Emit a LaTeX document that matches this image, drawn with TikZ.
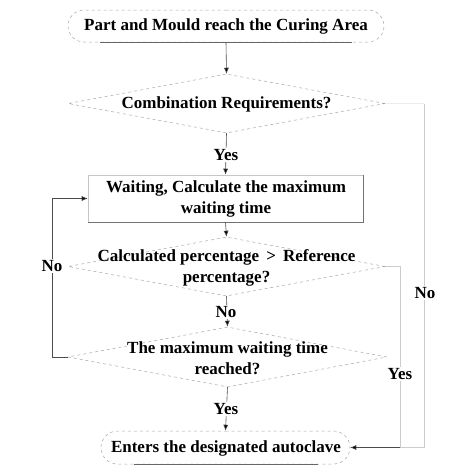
\documentclass[tikz,border=0pt]{standalone}
\usepackage{fontspec}
\setmainfont{Liberation Serif}
\usetikzlibrary{shapes.geometric,shapes.misc,arrows.meta}
\tikzset{
  txt/.style={font=\bfseries\fontsize{17}{21}\selectfont, align=center, inner sep=0pt},
  term/.style={rounded rectangle, draw=gray!70, dashed, line width=0.5pt, inner sep=0pt},
  dia/.style={diamond, draw=gray!70, dashed, line width=0.5pt, inner sep=0pt},
  procbox/.style={rectangle, draw=gray!45, line width=0.6pt, inner sep=0pt},
  conn/.style={draw=black!70, line width=0.6pt},
  arr/.style={conn, -{Latex[length=6pt,width=5pt,fill=black]}},
  faint/.style={draw=gray!40, line width=0.6pt},
  veryfaint/.style={draw=gray!15, line width=0.5pt},
  lbl/.style={font=\bfseries\fontsize{17}{21}\selectfont, fill=white, inner sep=1pt}
}
\begin{document}
\begin{tikzpicture}[x=1pt,y=-1pt]
\useasboundingbox (0,0) rectangle (474,474);
% shapes
\node[term, minimum width=316pt, minimum height=32pt] (start) at (226,26) {};
\draw[black!60, line width=0.6pt] ([xshift=16pt]start.south west) -- ([xshift=-16pt]start.south east);
\node[txt] (starttxt) at (226,26.5) {Part and Mould reach the Curing Area};

\node[dia, minimum width=317pt, minimum height=59pt] (d1) at (226.5,103.5) {};
\node[txt] (d1txt) at (226.5,104) {Combination Requirements?};

\node[procbox, minimum width=275pt, minimum height=47pt] (wait) at (225.5,198.5) {};
\draw[black!55, line width=0.6pt] (wait.north east) -- (wait.south east) -- (wait.south west);
\node[txt] (waittxt) at (226,199) {Waiting, Calculate the maximum\\waiting time};

\node[dia, minimum width=317pt, minimum height=59pt] (d2) at (226.5,266.5) {};
\node[txt] (d2txt) at (226.5,267.5) {Calculated percentage \,>\, Reference\\percentage?};

\node[dia, minimum width=319pt, minimum height=60pt] (d3) at (227.5,357) {};
\node[txt] (d3txt) at (227.5,358) {The maximum waiting time\\reached?};

\node[term, minimum width=249pt, minimum height=33pt] (end) at (225.5,447.5) {};
\draw[black!60, line width=0.6pt] ([xshift=16pt]end.south west) -- ([xshift=-16pt]end.south east);
\node[txt] (endtxt) at (226,448) {Enters the designated autoclave};

% coordinates
\coordinate (l1) at (52,357);
\coordinate (l2) at (52,198.5);
\coordinate (r1) at (400,266.5);
\coordinate (r2) at (400,447.5);
\coordinate (f1) at (424,103.5);
\coordinate (f2) at (424,447.5);

% connectors
\draw[arr] (start.south) -- (d1.north);
\draw[arr] (d1.south) -- (wait.north);
\draw[arr] (wait.south) -- (d2.north);
\draw[arr] (d2.south) -- (d3.north);
\draw[arr] (d3.south) -- (end.north);
\draw[arr] (d3.west) -- (l1) -- (l2) -- (wait.west);
\draw[faint] (d2.east) -- (r1) -- (r2);
\draw[veryfaint] (d1.east) -- (f1);
\draw[faint] (f1) -- (f2) -- (r2);
\draw[arr] (r2) -- (end.east);

% labels
\node[lbl] (yes1) at (226,155) {Yes};
\node[lbl] (no1) at (226,312) {No};
\node[lbl] (yes2) at (226,409) {Yes};
\node[lbl] (no2) at (52,266) {No};
\node[lbl] (yes3) at (400,374) {Yes};
\node[lbl] (no3) at (425,293) {No};
\end{tikzpicture}
\end{document}
